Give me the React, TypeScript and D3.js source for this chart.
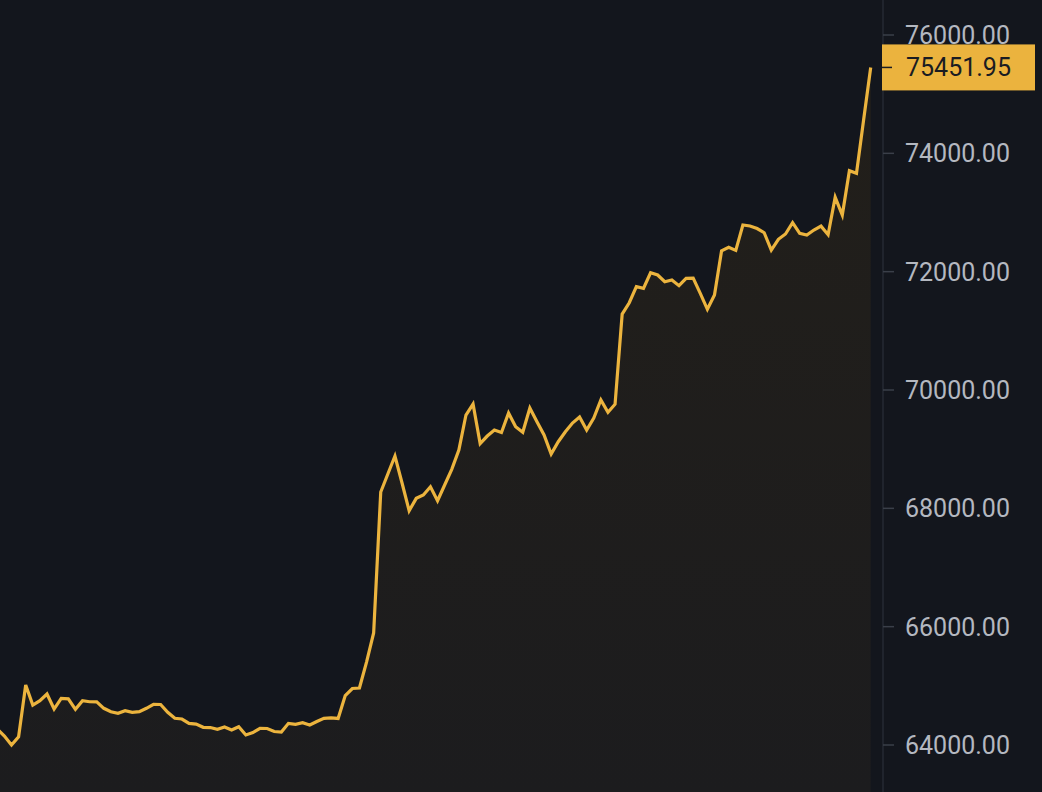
import React, { useRef, useEffect } from 'react';
import * as d3 from 'd3';

// price series (evenly spaced samples)
const prices: number[] = [
  64270, 64152, 64000, 64140, 65014, 64676, 64748, 64862, 64608, 64789,
  64780, 64603, 64748, 64731, 64728, 64620, 64563, 64535, 64579, 64552,
  64563, 64620, 64688, 64685, 64552, 64451, 64439, 64366, 64354, 64299,
  64295, 64265, 64304, 64253, 64309, 64169, 64211, 64282, 64279, 64228,
  64219, 64366, 64349, 64377, 64338, 64397, 64451, 64459, 64449, 64836,
  64955, 64963, 65402, 65893, 68276, 68580, 68884, 68428, 67960, 68169,
  68225, 68365, 68129, 68394, 68659, 68986, 69577, 69763, 69095, 69222,
  69324, 69281, 69611, 69380, 69285, 69696, 69464, 69239, 68918, 69126,
  69295, 69442, 69543, 69324, 69527, 69831, 69623, 69760, 71284, 71475,
  71746, 71719, 71982, 71944, 71830, 71859, 71763, 71888, 71890, 71634,
  71364, 71605, 72354, 72412, 72360, 72789, 72772, 72729, 72658, 72366,
  72547, 72637, 72828, 72648, 72620, 72704, 72770, 72625, 73257, 72958,
  73706, 73662, 74563, 75451.95,
];

const yTicks: number[] = [64000, 66000, 68000, 70000, 72000, 74000, 76000];

const width = 1042;
const height = 792;

export default function App() {
  const svgRef = useRef<SVGSVGElement | null>(null);

  useEffect(() => {
    document.body.style.margin = '0';
    document.body.style.background = '#13161d';
    if (!svgRef.current) return;

    const svg = d3.select(svgRef.current);
    svg.selectAll('*').remove();

    const axisX = 883;
    const font = 'Roboto, "Noto Sans", sans-serif';

    const x = d3.scaleLinear()
      .domain([0, prices.length - 1])
      .range([-2.7, 870.7]);

    const y = d3.scaleLinear()
      .domain([64000, 76000])
      .range([745, 35]);

    // background
    svg.append('rect')
      .attr('width', width)
      .attr('height', height)
      .attr('fill', '#13161d');

    const defs = svg.append('defs');
    const grad = defs.append('linearGradient')
      .attr('id', 'areaFill')
      .attr('x1', 0).attr('y1', 0)
      .attr('x2', 0).attr('y2', 1);
    grad.append('stop').attr('offset', '0%').attr('stop-color', '#221f1a');
    grad.append('stop').attr('offset', '100%').attr('stop-color', '#1c1c1e');

    const area = d3.area<number>()
      .x((_, i) => x(i))
      .y0(height)
      .y1(d => y(d));

    const line = d3.line<number>()
      .x((_, i) => x(i))
      .y(d => y(d));

    svg.append('path')
      .datum(prices)
      .attr('d', area)
      .attr('fill', 'url(#areaFill)');

    svg.append('path')
      .datum(prices)
      .attr('d', line)
      .attr('fill', 'none')
      .attr('stroke', '#ecb43e')
      .attr('stroke-width', 3.2)
      .attr('stroke-linejoin', 'miter');

    // right price axis
    svg.append('line')
      .attr('x1', axisX).attr('x2', axisX)
      .attr('y1', 0).attr('y2', height)
      .attr('stroke', '#262a33')
      .attr('stroke-width', 1.5);

    const ticks = svg.append('g');
    ticks.selectAll('line')
      .data(yTicks)
      .join('line')
      .attr('x1', axisX)
      .attr('x2', axisX + 11)
      .attr('y1', d => y(d))
      .attr('y2', d => y(d))
      .attr('stroke', '#3a3f49')
      .attr('stroke-width', 1.5);

    ticks.selectAll('text')
      .data(yTicks)
      .join('text')
      .attr('x', 905)
      .attr('y', d => y(d))
      .attr('dy', '0.36em')
      .attr('fill', '#b4b8c0')
      .attr('font-family', font)
      .attr('font-size', 25)
      .text(d => d.toFixed(2));

    // last price marker
    const last = prices[prices.length - 1];
    const ly = y(last);
    svg.append('rect')
      .attr('x', 882)
      .attr('y', ly - 23)
      .attr('width', 153)
      .attr('height', 46)
      .attr('fill', '#ebb33e');
    svg.append('line')
      .attr('x1', 882).attr('x2', 892)
      .attr('y1', ly).attr('y2', ly)
      .attr('stroke', '#1a1c22')
      .attr('stroke-width', 1.5);
    svg.append('text')
      .attr('x', 906)
      .attr('y', ly)
      .attr('dy', '0.36em')
      .attr('fill', '#1a1c22')
      .attr('font-family', font)
      .attr('font-size', 25)
      .text(last.toFixed(2));
  }, []);

  return <svg ref={svgRef} width={width} height={height} style={{ display: 'block' }}></svg>;
}
